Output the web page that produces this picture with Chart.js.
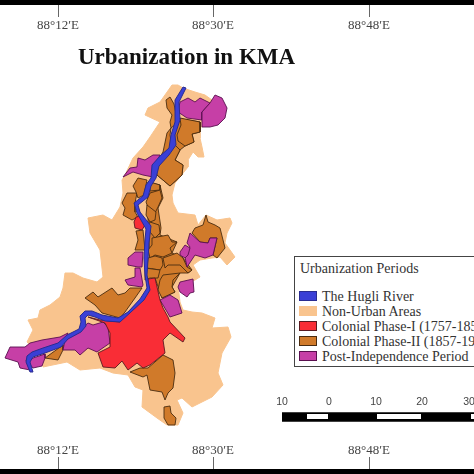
<!DOCTYPE html>
<html>
<head>
<meta charset="utf-8">
<title>Urbanization in KMA</title>
<script src="https://cdn.jsdelivr.net/npm/chart.js@4"></script>
<style>
    html, body { margin: 0; background: #fff; overflow: hidden; }
    #wrap { position: relative; width: 474px; height: 474px; overflow: hidden; }
    #legendBox {
        position: absolute; left: 294px; top: 256px; width: 260px; height: 109px;
        border: 1.5px solid #444; background: #fff;
        font-family: "Liberation Serif", serif; font-size: 14px; color: #333;
    }
    #legendBox .head { position: absolute; left: 5px; top: 4px; white-space: nowrap; }
    #legendBox .row { position: absolute; left: 4px; height: 15px; line-height: 15px; white-space: nowrap; }
    #legendBox i { display: inline-block; box-sizing: border-box; width: 18px; height: 10px; margin-right: 5px; border: 1px solid; }
</style>
</head>
<body>
<div id="wrap">
    <canvas id="mapChart" width="474" height="474"></canvas>
    <div id="legendBox"></div>
</div>
<script>
// Map units
const nonUrbanAreas = [[172,85],[178,85],[183,88],[195,92],[205,95],[212,100],[200,130],[200,138],[202,147],[204,157],[198,157],[193,152],[188,160],[188,167],[180,177],[175,183],[172,195],[173,203],[178,213],[195,215],[198,225],[206,215],[217,220],[230,218],[232,223],[227,233],[225,243],[235,257],[227,265],[220,257],[212,258],[200,260],[193,265],[200,277],[195,280],[178,285],[180,302],[183,310],[192,312],[202,313],[215,318],[212,328],[228,327],[231,337],[222,353],[218,373],[223,385],[212,397],[192,407],[182,398],[177,400],[183,413],[178,425],[167,425],[157,418],[142,407],[143,390],[135,387],[128,375],[113,373],[100,368],[80,370],[67,362],[43,367],[40,355],[27,342],[33,330],[28,320],[38,318],[40,310],[50,305],[60,297],[63,288],[65,273],[73,273],[83,278],[97,282],[103,277],[100,250],[90,233],[88,218],[103,215],[112,220],[120,207],[123,193],[122,180],[125,175],[133,158],[143,147],[150,137],[160,122],[145,115],[148,108],[160,102]];

const colonialOne = [
    [[148,279],[155,278],[160,300],[163,308],[168,317],[170,322],[185,338],[183,342],[170,333],[163,340],[165,353],[150,365],[143,368],[137,363],[128,370],[122,361],[115,368],[103,367],[98,353],[110,347],[110,333],[105,323],[88,317],[100,320],[120,322],[130,310],[143,298],[148,288]],
    [[136,217],[142,216],[145,225],[142,230],[135,228],[134,222]]
];

const colonialTwo = [
    // Contiguous wards east of the river, drawn first so the blocks below share their ground
    [[176,118],[200,122],[200,132],[192,134],[194,142],[185,146],[180,150],[175,160],[183,165],[182,175],[170,186],[157,175],[155,165],[172,140]],
    [[148,182],[160,185],[163,198],[158,208],[161,228],[160,235],[172,240],[177,242],[172,253],[183,258],[192,270],[188,273],[180,273],[172,287],[175,292],[162,298],[155,278],[150,258],[148,230]],
    [[170,97],[174,104],[176,114],[176,124],[171,128],[170,122],[172,115],[167,108],[166,100]],
    [[180,118],[200,122],[200,132],[192,134],[194,142],[185,146],[178,141],[177,135],[181,125]],
    [[171,128],[170,135],[172,147],[165,152],[157,162],[163,152],[167,133]],
    [[175,145],[180,150],[175,160],[183,165],[182,175],[170,186],[157,175],[155,165],[163,158]],
    [[127,193],[137,193],[135,203],[135,212],[138,217],[132,220],[123,215],[125,208],[122,203]],
    [[138,178],[147,180],[144,195],[138,198],[136,192],[133,186]],
    [[136,231],[143,230],[145,250],[135,250],[138,240]],
    [[150,182],[160,185],[160,190],[150,191]],
    [[150,193],[160,190],[162,198],[158,207],[155,213],[150,213],[146,202]],
    [[147,205],[156,212],[155,220],[150,222],[146,215]],
    [[150,222],[159,225],[160,233],[155,238],[150,232],[148,226]],
    [[152,238],[168,235],[172,242],[177,242],[170,248],[172,253],[163,257],[155,255],[150,258],[148,250],[152,245]],
    [[148,258],[155,256],[162,258],[163,265],[160,270],[147,268]],
    [[163,258],[177,253],[183,258],[187,267],[192,270],[188,273],[180,265],[168,265],[165,268]],
    [[145,268],[160,270],[158,278],[150,278],[145,280]],
    [[160,280],[163,275],[180,273],[173,280],[172,287],[175,292],[162,298],[158,290]],
    [[85,298],[93,292],[98,297],[112,288],[118,295],[125,293],[130,288],[142,288],[135,298],[125,312],[120,318],[102,313],[95,305]],
    [[45,358],[63,345],[63,350],[58,360]],
    [[140,368],[148,368],[163,355],[173,360],[175,373],[173,388],[168,393],[165,400],[162,392],[150,390],[148,380],[147,375],[143,377],[130,372]],
    [[164,407],[170,406],[171,413],[176,418],[175,425],[168,425],[164,418]],
    [[195,228],[203,225],[206,215],[208,222],[215,225],[220,228],[223,240],[225,248],[217,258],[213,255],[217,238],[210,238],[208,243],[200,242],[192,233]]
];

const postIndependence = [
    [[180,102],[188,98],[195,102],[200,98],[210,103],[202,112],[202,120],[187,118],[178,112]],
    [[215,95],[222,98],[227,108],[225,118],[218,125],[210,127],[202,127],[202,112],[210,103]],
    [[123,177],[130,168],[137,167],[138,158],[145,160],[153,155],[160,155],[155,165],[153,177],[143,175],[133,172]],
    [[128,258],[135,252],[143,252],[142,267],[138,267],[128,265]],
    [[135,268],[140,268],[143,285],[142,287],[128,285],[125,280],[135,277]],
    [[190,233],[200,242],[208,243],[210,238],[217,238],[213,255],[205,258],[195,255],[187,267],[185,257],[190,247],[187,243]],
    [[180,252],[185,245],[190,248],[188,255],[185,258],[180,255]],
    [[180,282],[193,279],[194,292],[190,293],[187,297],[180,292],[178,287]],
    [[160,300],[170,295],[178,300],[182,313],[170,317],[163,305]],
    [[5,358],[10,347],[25,347],[30,343],[42,340],[60,337],[68,333],[62,345],[45,350],[33,355],[26,360],[30,370],[20,368],[18,362]],
    [[28,362],[33,358],[45,354],[45,358],[42,366],[33,368]],
    [[63,350],[65,340],[78,332],[88,323],[93,325],[103,322],[108,327],[110,343],[97,352],[88,348],[80,355],[75,350]]
];

const hugliRiver = [[30,372],[26,362],[27,356],[32,352],[43,348],[58,343],[67,335],[79,329],[81,322],[80,316],[85,311],[92,311],[102,315],[118,318],[128,312],[140,299],[147,288],[145,275],[144,258],[145,240],[146,229],[137,213],[134,203],[143,196],[146,185],[151,178],[152,165],[160,156],[169,148],[171,135],[175,122],[175,100],[183,87],[186,88],[179,102],[180,120],[175,135],[176,145],[169,155],[159,166],[156,178],[151,186],[148,197],[138,205],[140,212],[151,226],[149,243],[148,260],[147,275],[150,290],[144,300],[131,312],[120,322],[105,321],[95,317],[88,315],[85,318],[86,326],[81,332],[68,339],[61,347],[45,353],[33,357],[30,362],[33,372]];

const legendTitle = 'Urbanization Periods';
const legendLabels = ['The Hugli River', 'Non-Urban Areas', 'Colonial Phase-I (1757-1857)', 'Colonial Phase-II (1857-1947)', 'Post-Independence Period'];
const legendColors = ['#3a3fd6', '#f9c48e', '#f92d36', '#d07a2a', '#c63fa6'];
const legendEdges = ['#2a2c90', '#f9c48e', '#5a1a20', '#4a2c10', '#5a1050'];

const lonTicks = [58, 213, 369];
const lonLabels = ['88°12′E', '88°30′E', '88°48′E'];

const scaleBarBlack = [[282,417],[474,417]];
const scaleBarWhite = [[[307,416.5],[328,416.5]], [[377,416.5],[421,416.5]], [[471,416.5],[474,416.5]]];
const scaleTicks = [282, 329, 376, 422, 469];
const scaleLabels = ['10', '0', '10', '20', '30'];

function polygon(points, fillColor, edgeColor, edgeWidth) {
    return {
        data: points.concat([points[0]]).map(p => ({ x: p[0], y: p[1] })),
        showLine: true,
        fill: 'shape',
        backgroundColor: fillColor,
        borderColor: edgeColor,
        borderWidth: edgeWidth,
        pointRadius: 0,
        tension: 0,
        clip: false
    };
}

function barLine(points, color, width) {
    return {
        data: points.map(p => ({ x: p[0], y: p[1] })),
        showLine: true,
        fill: false,
        borderColor: color,
        borderWidth: width,
        pointRadius: 0,
        clip: false
    };
}

// Bottom layer first, flipped below because Chart.js paints the first dataset last
const layers = [polygon(nonUrbanAreas, legendColors[1], legendColors[1], 1)];
colonialTwo.forEach(p => layers.push(polygon(p, legendColors[3], legendEdges[3], 0.9)));
postIndependence.forEach(p => layers.push(polygon(p, legendColors[4], legendEdges[4], 0.9)));
colonialOne.forEach(p => layers.push(polygon(p, legendColors[2], legendEdges[2], 0.9)));
layers.push(polygon(hugliRiver, legendColors[0], legendEdges[0], 1));
layers.push(barLine(scaleBarBlack, '#000', 9.5));
scaleBarWhite.forEach(p => layers.push(barLine(p, '#fff', 5)));

// Title, longitude labels and scale bar numbers.
// The longitude labels sit inside the frame, under their ticks, so they are placed here
const mapText = {
    id: 'mapText',
    afterDatasetsDraw(chart) {
        const ctx = chart.ctx;
        const x = chart.scales.x, y = chart.scales.y;
        ctx.save();
        ctx.textAlign = 'center';
        ctx.textBaseline = 'middle';
        ctx.fillStyle = '#111';
        ctx.font = 'bold 23px "Liberation Serif"';
        ctx.fillText('Urbanization in KMA', x.getPixelForValue(186.5), y.getPixelForValue(58));
        ctx.fillStyle = '#444';
        ctx.font = '13px "Liberation Serif"';
        lonTicks.forEach((t, i) => {
            ctx.fillText(lonLabels[i], x.getPixelForValue(t), y.getPixelForValue(26));
            ctx.fillText(lonLabels[i], x.getPixelForValue(t), y.getPixelForValue(451));
        });
        ctx.font = '10.5px "Liberation Sans"';
        scaleTicks.forEach((t, i) => ctx.fillText(scaleLabels[i], x.getPixelForValue(t), y.getPixelForValue(402)));
        ctx.restore();
    }
};

function lonAxis(position) {
    return {
        type: 'linear',
        position: position,
        min: 0,
        max: 474,
        afterBuildTicks: axis => { axis.ticks = lonTicks.map(v => ({ value: v })); },
        afterFit: axis => { axis.height = 0; },
        grid: { drawOnChartArea: false, drawTicks: true, tickLength: -14.5, tickColor: '#666', tickWidth: 1 },
        border: { display: true, color: '#000', width: 5 },
        ticks: { display: false }
    };
}

new Chart(document.getElementById('mapChart').getContext('2d'), {
    type: 'scatter',
    data: { datasets: layers.reverse() },
    options: {
        responsive: false,
        animation: false,
        layout: { padding: { top: 2.5, bottom: 2.5, left: 0, right: 0 } },
        plugins: { legend: { display: false }, title: { display: false }, tooltip: { enabled: false } },
        scales: {
            x: lonAxis('bottom'),
            xTop: lonAxis('top'),
            y: { type: 'linear', display: false, reverse: true, min: 2.5, max: 471.5 }
        }
    },
    plugins: [mapText]
});

// Legend sits in a box that runs off the right of the page
const legendBox = document.getElementById('legendBox');
legendBox.innerHTML = `<div class="head">${legendTitle}</div>` + legendLabels.map((label, i) =>
    `<div class="row" style="top:${32 + i * 15}px"><i style="background:${legendColors[i]};border-color:${legendEdges[i]}"></i>${label}</div>`
).join('');
</script>
</body>
</html>
